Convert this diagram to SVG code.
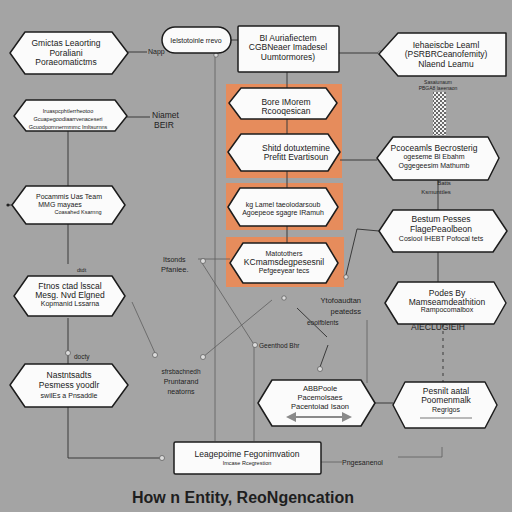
<svg xmlns="http://www.w3.org/2000/svg" width="512" height="512" viewBox="0 0 512 512">
<defs>
<style>
.n{fill:#fbfbfb;stroke:#1c1c1c;stroke-width:1.5;stroke-linejoin:round}
.c{fill:none;stroke:#3a3a3a;stroke-width:1}
.cl{fill:none;stroke:#5e5e5e;stroke-width:0.8}
.t{font-family:"Liberation Sans",Arial,sans-serif;fill:#1a1a1a;text-anchor:middle}
.s{font-size:8.5px}
.m{font-size:7px}
.x{font-size:5.5px}
.l{font-family:"Liberation Sans",Arial,sans-serif;fill:#1e1e1e}
.dot{fill:#dcdcdc;stroke:#555;stroke-width:0.7}
</style>
<pattern id="chk" width="4" height="4" patternUnits="userSpaceOnUse">
<rect width="4" height="4" fill="#f2f2f2"/><rect width="2" height="2" fill="#6a6a6a"/><rect x="2" y="2" width="2" height="2" fill="#6a6a6a"/>
</pattern>
<marker id="ah" viewBox="0 0 10 10" refX="8" refY="5" markerWidth="5" markerHeight="5" orient="auto-start-reverse"><path d="M0,0L10,5L0,10z" fill="#8a8a8a"/></marker>
</defs>
<rect width="512" height="512" fill="#a4a4a4"/>
<g id="orange">
<rect x="226" y="84" width="116" height="94" fill="#e68c5c"/>
<rect x="226" y="183" width="117" height="47" fill="#e68c5c"/>
<rect x="226" y="237" width="118" height="50" fill="#e68c5c"/>
</g>
<g id="connectors">
<path class="c" d="M128,52H147"/>
<path class="c" d="M127,117H150"/>
<path class="c" d="M68,131V186M68,224V264M68,318V364M68,407V458H162"/>
<circle class="dot" cx="68" cy="353" r="2.5"/>
<circle class="dot" cx="162" cy="458" r="2.5"/>
<path class="c" d="M8,205H12"/><circle cx="8" cy="205" r="1.6" fill="#222"/>
<path class="cl" d="M215,57V441M254,345V441"/>
<circle class="dot" cx="216" cy="55" r="2.2"/>
<path class="cl" d="M202,263L253,343M203,357L272,300M132,302L155,353"/>
<circle class="dot" cx="155" cy="355" r="2.5"/><circle class="dot" cx="203" cy="357" r="2.5"/><circle class="dot" cx="255" cy="345" r="2.5"/>
<path class="cl" d="M198,259H230"/><circle class="dot" cx="203" cy="261" r="2.5"/>
<path class="c" d="M297,308L327,337M328,345L320,367"/><circle class="dot" cx="320" cy="369" r="2.5"/><circle class="dot" cx="284" cy="298" r="2.2"/>
<path class="c" d="M379,231L357,229L346,275"/><circle class="dot" cx="346" cy="277" r="2.2"/>
<path class="cl" d="M367,320V383"/>
<path class="c" d="M339,53H379"/><circle class="dot" cx="380" cy="53" r="2"/>
<path class="c" d="M231,40H238"/>
<path class="c" d="M340,160H377"/>
<path class="c" d="M438,180V210"/>
<rect x="433" y="92" width="13" height="43" fill="url(#chk)"/>
<path class="c" d="M438,252V282"/>
<path class="c" d="M443,324V382" stroke-dasharray="3,4"/>
<path class="c" d="M375,403H393"/>
<path class="cl" d="M321,462H342M398,457H442V447"/>
<path class="c" d="M287,72V88M287,119V134M287,171V188M287,226V243"/>
</g>
<g id="n1"><path class="n" d="M10,53L25,32H112L128,53L112,74H25Z"/>
<text class="t s" x="66" y="46">Gmictas Leaorting</text><text class="t s" x="66" y="56">Poraliani</text><text class="t s" x="66" y="65">Poraeomatictms</text></g>
<g id="n2"><path class="n" d="M14,116L26,100H115L127,116L115,131H26Z"/>
<text class="t x" x="68" y="113">Iruaspcphtlerrheotoo</text><text class="t x" x="68" y="121">Gcuapegoodiaarrvenaceseri</text><text class="t x" x="68" y="129">Gcuodpornnermmmc Imltsurnns</text></g>
<g id="n3"><path class="n" d="M12,205L26,186H112L125,205L112,224H26Z"/>
<text class="t m" x="69" y="199">Pocammis Uas Team</text><text class="t m" x="60" y="207">MMG mayaes</text><text class="t x" x="78" y="214">Coasahed Ksarnng</text></g>
<g id="n4"><path class="n" d="M14,296L28,276H112L125,296L112,316H28Z"/>
<text class="t s" x="70" y="289">Ftnos ctad lsscal</text><text class="t s" x="70" y="298">Mesg. Nvd Elgned</text><text class="t m" x="70" y="306">Kopmanid Lssarna</text></g>
<g id="n5"><path class="n" d="M10,385L25,364H112L128,385L112,407H25Z"/>
<text class="t s" x="69" y="378">Nastntsadts</text><text class="t s" x="69" y="388">Pesmess yoodlr</text><text class="t m" x="69" y="398">swilEs a Pnsaddle</text></g>
<g id="pill"><rect class="n" x="162" y="27" width="69" height="26" rx="13"/>
<text class="t m" x="196" y="43">Ielstotoinle rrevo</text></g>
<g id="rect1"><rect class="n" x="238" y="26" width="101" height="46" rx="1"/>
<text class="t s" x="288" y="41">BI Auriafiectem</text><text class="t s" x="288" y="50">CGBNeaer Imadesel</text><text class="t s" x="288" y="60">Uumtormores)</text></g>
<g id="rtop"><path class="n" d="M379,54L398,33H506V76H398Z"/>
<text class="t s" x="446" y="48">Iehaeiscbe Leaml</text><text class="t s" x="446" y="57">(PSRBRCeanofemity)</text><text class="t s" x="446" y="67">Nlaend Leamu</text></g>
<g id="bore"><path class="n" d="M229,103L241,88H326L337,103L326,119H241Z"/>
<text class="t s" x="286" y="105">Bore IMorem</text><text class="t s" x="286" y="114">Rcooqesican</text></g>
<g id="shitd"><path class="n" d="M228,152L241,134H328L340,152L328,171H241Z"/>
<text class="t s" x="296" y="151">Shitd dotuxtemine</text><text class="t s" x="296" y="160">Prefitt Evartisoun</text></g>
<g id="kg"><path class="n" d="M228,207L240,188H326L338,207L326,226H240Z"/>
<text class="t m" x="283" y="207">kg Lamel taeolodarsoub</text><text class="t m" x="283" y="215">Agoepeoe sgagre IRamuh</text></g>
<g id="mat"><path class="n" d="M230,263L243,243H326L338,263L326,283H243Z"/>
<text class="t m" x="284" y="256">Matotothers</text><text class="t s" x="284" y="265">KCmamsdegpesesnil</text><text class="t m" x="284" y="273">Pefgeeyear tecs</text></g>
<g id="pcoc"><path class="n" d="M377,158L393,137H488L499,158L488,180H393Z"/>
<text class="t s" x="434" y="151">Pcoceamls Becrosterig</text><text class="t m" x="434" y="159">ogeseme Bl Ebahm</text><text class="t m" x="434" y="168">Oggegeesim Mathumb</text></g>
<g id="bestum"><path class="n" d="M379,231L393,210H493L507,231L493,252H393Z"/>
<text class="t s" x="441" y="222">Bestum Pesses</text><text class="t s" x="441" y="232">FlagePeaolbeon</text><text class="t m" x="441" y="241">Cosiool IHEBT Pofocal tets</text></g>
<g id="podes"><path class="n" d="M385,303L398,282H494L506,303L494,324H398Z"/>
<text class="t s" x="447" y="296">Podes By</text><text class="t s" x="447" y="305">Mamseamdeathition</text><text class="t m" x="447" y="312">Rampocomalbox</text></g>
<g id="pesnilt"><path class="n" d="M393,405L405,382H485L497,405L485,428H405Z"/>
<text class="t s" x="446" y="394">Pesnilt aatal</text><text class="t s" x="446" y="403">Poomenmalk</text><text class="t m" x="446" y="412">Regrigos</text><path d="M420,418H472" stroke="#555" stroke-width="0.8"/></g>
<g id="abb"><path class="n" d="M258,403L272,380H361L375,403L361,426H272Z"/>
<text class="t" font-size="7.5" x="320" y="391">ABBPoole</text><text class="t" font-size="7.5" x="320" y="400">Pacemolsaes</text><text class="t" font-size="7.5" x="320" y="409">Pacentoiad Isaon</text>
<path d="M288,417H350" stroke="#8a8a8a" stroke-width="2" marker-start="url(#ah)" marker-end="url(#ah)"/></g>
<g id="bottom"><rect class="n" x="174" y="442" width="147" height="32" rx="1.5"/>
<text class="t s" x="247" y="457">Leagepoime Fegonimvation</text><text class="t x" x="247" y="465">Imcase Rcegrestion</text></g>
<g id="labels">
<text class="l" x="148" y="54" font-size="7">Napp</text>
<text class="l" x="152" y="118" font-size="8.5">Niamet</text><text class="l" x="154" y="128" font-size="8.5">BEIR</text>
<text class="l" x="163" y="262" font-size="7">Itsonds</text><text class="l" x="161" y="272" font-size="7.5">Pfaniee.</text>
<text class="l" x="77" y="272" font-size="5.5">dtdt</text>
<text class="l" x="74" y="359" font-size="6.5">docty</text>
<text class="l" x="181" y="374" font-size="6.5" text-anchor="middle">sfrsbachnedh</text><text class="l" x="181" y="384" font-size="7" text-anchor="middle">Pruntarand</text><text class="l" x="181" y="394" font-size="7" text-anchor="middle">neatorns</text>
<text class="l" x="361" y="303" font-size="7.5" text-anchor="end">Ytofoaudtan</text><text class="l" x="361" y="314" font-size="7.5" text-anchor="end">peatedss</text>
<text class="l" x="307" y="325" font-size="6.5">eooifblents</text>
<text class="l" x="259" y="348" font-size="6.5">Geenthod Bhr</text>
<text class="l" x="438" y="330" font-size="8.5" text-anchor="middle">AIECLUGIEIH</text>
<text class="l" x="438" y="84" font-size="5" text-anchor="middle">Sasaiunaum</text><text class="l" x="438" y="90" font-size="5" text-anchor="middle">PBGA8 laeenaon</text>
<text class="l" x="444" y="185" font-size="6" text-anchor="middle">Batts</text><text class="l" x="436" y="194" font-size="6" text-anchor="middle">Ksmunttles</text>
<text class="l" x="342" y="465" font-size="7">Pngesanenol</text>
<text class="l" x="243" y="503" font-size="16" font-weight="bold" text-anchor="middle">How n Entity, ReoNgencation</text>
</g>
</svg>
